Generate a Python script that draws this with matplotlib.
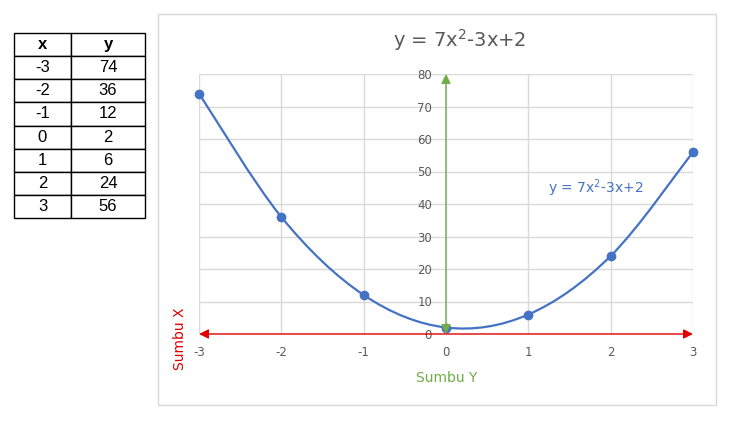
import numpy as np
import matplotlib.pyplot as plt
from matplotlib.patches import Rectangle, PathPatch
from matplotlib.path import Path

plt.rcParams['axes.unicode_minus'] = False

# data from the table / chart
x_vals = [-3, -2, -1, 0, 1, 2, 3]
y_vals = [74, 36, 12, 2, 6, 24, 56]
x_ticks = [-3, -2, -1, 0, 1, 2, 3]
y_ticks = [0, 10, 20, 30, 40, 50, 60, 70, 80]

blue = '#4472C4'
green = '#70AD47'
red = '#E00000'
gray = '#595959'

fig = plt.figure(figsize=(7.32, 4.21), dpi=100)

# chart frame
fig.patches.append(Rectangle((158/732, 1-405/421), (716-158)/732, (405-14)/421,
                             transform=fig.transFigure, fill=False,
                             edgecolor='#d9d9d9', lw=1))

ax = fig.add_axes([199/732, 1-334/421, (693-199)/732, (334-74)/421])
ax.set_xlim(-3, 3)
ax.set_ylim(0, 80)
for s in ax.spines.values():
    s.set_visible(False)
ax.set_xticks(x_ticks)
ax.set_yticks(y_ticks)
ax.grid(True, color='#d9d9d9', lw=1)
ax.set_axisbelow(True)
ax.tick_params(length=0, labelsize=8.5, labelcolor=gray)
ax.tick_params(axis='x', pad=9)
# y labels sit beside the x=0 line
ax.spines['left'].set_position(('data', 0))
ax.tick_params(axis='y', pad=10)

# smoothed line like a spreadsheet "smooth line" (bezier through the points)
P = np.column_stack([x_vals, y_vals]).astype(float)
verts = [P[0]]
codes = [Path.MOVETO]
n = len(P)
for i in range(n - 1):
    prev_p = P[i - 1] if i > 0 else P[i]
    next_p = P[i + 2] if i + 2 < n else P[i + 1]
    c1 = P[i] + (P[i + 1] - prev_p) / 6
    c2 = P[i + 1] - (next_p - P[i]) / 6
    verts += [c1, c2, P[i + 1]]
    codes += [Path.CURVE4] * 3
ax.add_patch(PathPatch(Path(verts, codes), fill=False, edgecolor=blue,
                       lw=1.6, zorder=3, clip_on=False))
ax.plot(x_vals, y_vals, 'o', color=blue, ms=6, zorder=4, clip_on=False)

# axis arrows
ax.annotate('', xy=(3, 0), xytext=(-3, 0),
            arrowprops=dict(arrowstyle='<|-|>', color=red, lw=1,
                            mutation_scale=14, shrinkA=0, shrinkB=0),
            annotation_clip=False, zorder=5)
ax.annotate('', xy=(0, 80), xytext=(0, 0),
            arrowprops=dict(arrowstyle='<|-|>', color=green, lw=1,
                            mutation_scale=14, shrinkA=0, shrinkB=0),
            annotation_clip=False, zorder=5)

fig.text(460/732, 1-40/421, 'y = 7x$^2$-3x+2', ha='center', va='center',
         fontsize=14, color=gray)
fig.text(596/732, 1-188/421, 'y = 7x$^2$-3x+2', ha='center', va='center',
         fontsize=10, color=blue)
fig.text(180/732, 1-339/421, 'Sumbu X', ha='center', va='center',
         rotation=90, fontsize=10, color=red)
fig.text(447/732, 1-378/421, 'Sumbu Y', ha='center', va='center',
         fontsize=10, color=green)

# table on the left
tab_ax = fig.add_axes([14/732, 1-218/421, (145-14)/732, (218-33)/421])
tab_ax.axis('off')
cells = [[str(a), str(b)] for a, b in zip(x_vals, y_vals)]
tbl = tab_ax.table(cellText=cells, colLabels=['x', 'y'], cellLoc='center',
                   bbox=[0, 0, 1, 1], colWidths=[57, 74])
tbl.auto_set_font_size(False)
for (r, c), cell in tbl.get_celld().items():
    cell.set_edgecolor('black')
    cell.set_linewidth(1)
    cell.get_text().set_fontsize(12)
    cell.get_text().set_family('Liberation Sans')
    if r == 0:
        cell.get_text().set_fontweight('bold')

fig.savefig('out.png', dpi=100)
